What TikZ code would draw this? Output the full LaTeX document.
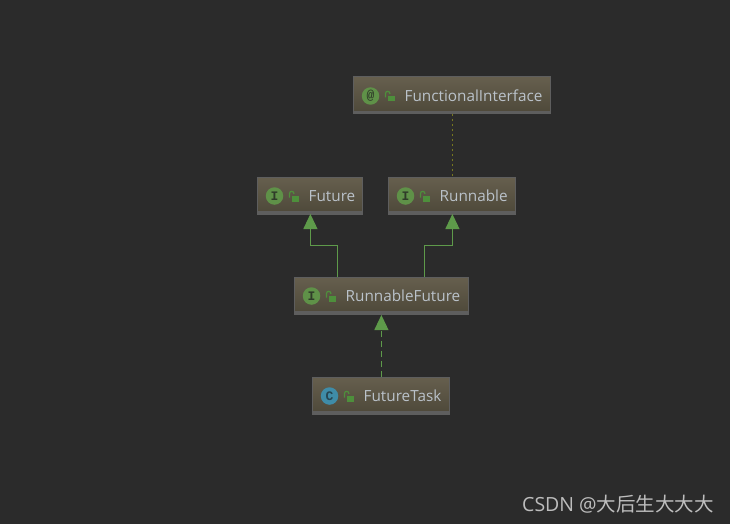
\documentclass[tikz,border=0pt]{standalone}
\usepackage{fontspec}
\setmainfont{Open Sans}
\newfontfamily\cjkfont{Noto Sans CJK SC}
\newfontfamily\badgefont{Liberation Mono}
\usetikzlibrary{arrows.meta}
\definecolor{bg}{HTML}{2B2B2B}
\definecolor{boxtop}{HTML}{665F4E}
\definecolor{boxbot}{HTML}{4D4839}
\definecolor{boxedge}{HTML}{5E5E5E}
\definecolor{boxlabel}{HTML}{BAC2CA}
\definecolor{ifacegreen}{HTML}{5F9148}
\definecolor{ifacetext}{HTML}{2F3B29}
\definecolor{classblue}{HTML}{3F8CA8}
\definecolor{classtext}{HTML}{264653}
\definecolor{lockgreen}{HTML}{4E8F3C}
\definecolor{arrowgreen}{HTML}{5E9A4A}
\definecolor{metaline}{HTML}{77771F}
\definecolor{markcolor}{HTML}{BDBDBD}
\tikzset{
  umlbox/.style={draw=boxedge,line width=1pt,top color=boxtop,bottom color=boxbot,minimum height=37pt,inner sep=0pt,outer sep=0pt},
  badge/.style={circle,minimum size=17.5pt,inner sep=0pt,font=\fontsize{13}{13}\selectfont\badgefont\bfseries},
  boxtext/.style={anchor=west,inner sep=0pt,text=boxlabel,font=\fontsize{15.3}{17}\selectfont},
  inherit/.style={draw=arrowgreen,line width=1.1pt,-{Triangle[length=15pt,width=14pt,fill=arrowgreen]}},
  realize/.style={inherit,dash pattern=on 6pt off 4pt},
  metaedge/.style={draw=metaline,line width=1pt,dash pattern=on 2pt off 3pt},
}
% name, left x, centre y, width, badge letter, badge fill, badge text, label
\newcommand{\umlnode}[8]{%
  \node[umlbox,minimum width=#4 pt,anchor=west] (#1) at (#2,#3) {};
  \fill[boxedge] (#2-0.5,#3+15.5) rectangle (#2+#4+0.5,#3+18.5);
  \node[badge,fill=#6,text=#7] (#1-badge) at (#2+17,#3+0.5) {#5};
  \draw[lockgreen,line width=1.2pt] (#2+32,#3+2) -- (#2+32,#3-2) .. controls (#2+32,#3-5) and (#2+36.5,#3-5) .. (#2+36.5,#3-1.5);
  \fill[lockgreen] (#2+34.5,#3+0.5) rectangle (#2+41.5,#3+6);
  \node[boxtext] (#1-text) at (#2+51,#3+0.7) {#8};
}
\begin{document}
\begin{tikzpicture}[x=1pt,y=-1pt]
\useasboundingbox (0,0) rectangle (730,524);
\fill[bg] (0,0) rectangle (730,524);

\umlnode{fi}{353.5}{95.5}{197}{@}{ifacegreen}{ifacetext}{FunctionalInterface}
\umlnode{run}{388.5}{195.5}{127}{I}{ifacegreen}{ifacetext}{Runnable}
\umlnode{fut}{257.5}{195.5}{105}{I}{ifacegreen}{ifacetext}{Future}
\umlnode{rf}{294.5}{295.5}{174}{I}{ifacegreen}{ifacetext}{RunnableFuture}
\umlnode{ft}{312.5}{395.5}{137}{C}{classblue}{classtext}{FutureTask}

\coordinate (rfL) at (337.4,277);
\coordinate (rfR) at (424.4,277);
\coordinate (fiB) at (452.4,114);
\coordinate (runT) at (452.4,177);
\coordinate (futB) at (310.4,214);
\coordinate (runB) at (452.4,214);
\coordinate (rfB) at (381.4,315);
\coordinate (ftT) at (381.4,377);

\draw[metaedge] (fiB) -- (runT);
\draw[inherit] (rfL) -- ++(0,-31.6) -| (futB);
\draw[inherit] (rfR) -- ++(0,-31.6) -| (runB);
\draw[realize] (ftT) -- (rfB);

\node[anchor=west,inner sep=0pt,text=markcolor,font=\fontsize{19.5}{21}\selectfont] (mark) at (522,504.5) {CSDN @{\cjkfont 大后生大大大}};
\end{tikzpicture}
\end{document}
